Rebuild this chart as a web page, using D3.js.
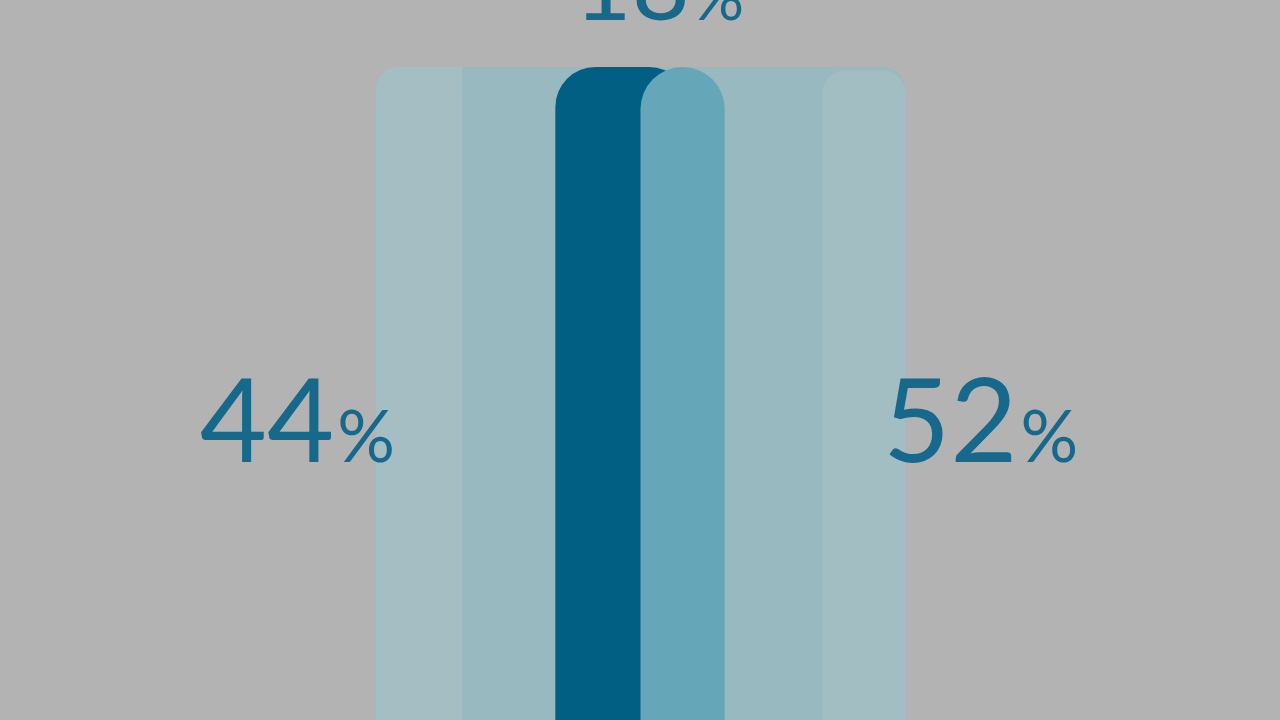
<!DOCTYPE html>
<html><head><meta charset="utf-8">
<script src="https://cdn.jsdelivr.net/npm/d3@7"></script>
<style>html,body{margin:0;padding:0;background:#b3b3b3;overflow:hidden}</style>
</head><body>
<svg id="c" width="1280" height="720"></svg>
<script>
// Data
const columns = ["outerLeft","innerLeft","dark","medium","innerRight","outerRight"];
const columnValues = [98, 100, 100, 100, 100, 99.5];
const columnColors = ["#a4bec4","#98b9c0","#025f84","#66a6b9","#98b9c0","#a3bec3"];
const labels = ["44","52","18"];
const labelSuffix = "%";

const W = 1280, H = 720;
const svg = d3.select("#c");
svg.append("rect").attr("width",W).attr("height",H).attr("fill","#b3b3b3");

const x = d3.scaleBand().domain(columns).range([376, 905]).padding(0);
const y = d3.scaleLinear().domain([0, 100]).range([H + 60, 67]);
const bw = x.bandwidth();

function roundTopArc(x0, x1, yTop, yBot, r){
  return `M${x0},${yBot}V${yTop+r}A${r},${r} 0 0 1 ${x0+r},${yTop}H${x1-r}A${r},${r} 0 0 1 ${x1},${yTop+r}V${yBot}Z`;
}

// base background band
svg.append("path")
  .attr("d", roundTopArc(x(columns[0]), x(columns[5]) + bw, y(100), H + 10, 22))
  .attr("fill", columnColors[1]);
// outer left
svg.append("path")
  .attr("d", `M${x(columns[0])},${H+10}V${y(100)+22}A22,22 0 0 1 ${x(columns[0])+22},${y(100)}H${x(columns[1])-2}V${H+10}Z`)
  .attr("fill", columnColors[0]);
// outer right (overlapping lighter bar with rounded corners)
svg.append("path")
  .attr("d", roundTopArc(x(columns[5]) + 6, x(columns[5]) + bw, y(columnValues[5]), H + 10, 22))
  .attr("fill", columnColors[5]);
// dark bar (extends under medium)
svg.append("path")
  .attr("d", roundTopArc(x("dark") + 3, x("dark") + bw * 1.55, y(columnValues[2]), H + 10, 40))
  .attr("fill", columnColors[2]);
// medium bar
svg.append("path")
  .attr("d", roundTopArc(x("medium"), x("medium") + bw - 4, y(columnValues[3]), H + 10, 42))
  .attr("fill", columnColors[3]);

const textColor = "#17698b";
function label(txt, px, py, anchor, fs, ps){
  const t = svg.append("text").attr("x", px).attr("y", py)
    .attr("text-anchor", anchor)
    .attr("font-family", "Lato, 'Open Sans', sans-serif")
    .attr("fill", textColor);
  t.append("tspan").attr("font-size", fs).text(txt);
  t.append("tspan").attr("font-size", ps).attr("dx", 3).text(labelSuffix);
  return t;
}
label(labels[0], 395, 462, "end", 116, 72);
label(labels[1], 883, 462, "start", 116, 72);
label(labels[2], 659, 20, "middle", 100, 64);
</script>
</body></html>
